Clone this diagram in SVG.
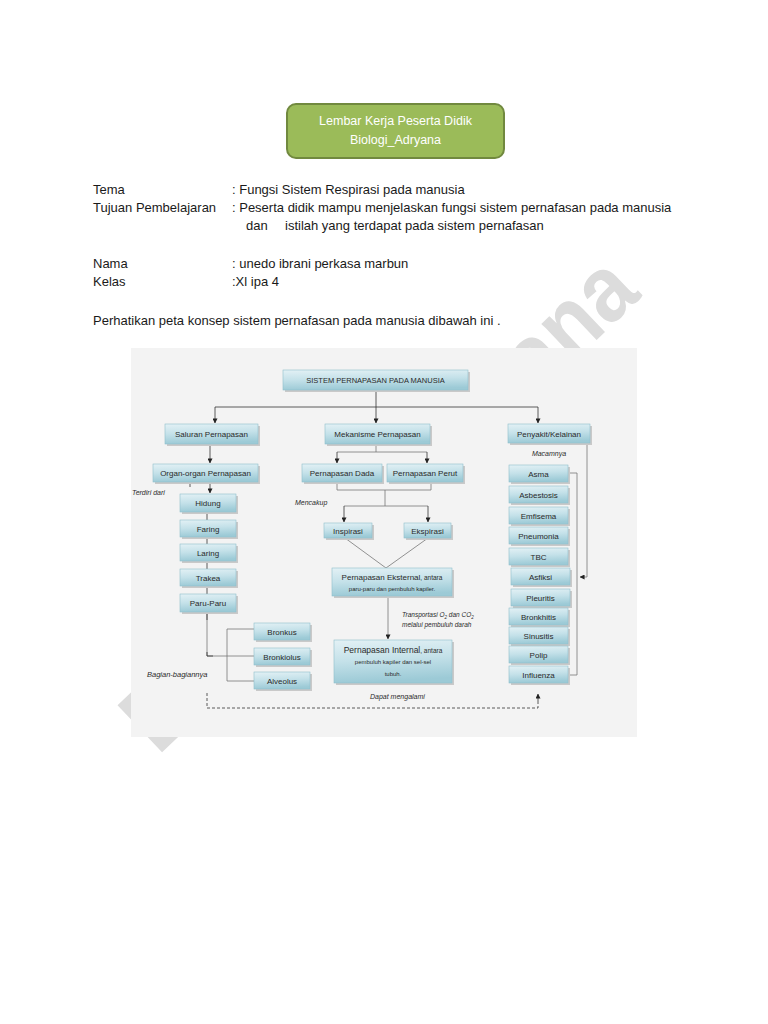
<svg xmlns="http://www.w3.org/2000/svg" width="768" height="1024" viewBox="0 0 768 1024">
<defs>
<linearGradient id="bx" x1="0" y1="0" x2="0.15" y2="1">
<stop offset="0" stop-color="#e3f1f5"/>
<stop offset="0.5" stop-color="#c4e1e9"/>
<stop offset="1" stop-color="#9ccad6"/>
</linearGradient>
<marker id="ah" viewBox="0 0 6 6" refX="5.5" refY="3" markerWidth="5" markerHeight="5" orient="auto" markerUnits="userSpaceOnUse">
<path d="M0,0 L6,3 L0,6 z" fill="#222"/>
</marker>
<style>
.doc{font-family:"Liberation Sans",Arial,sans-serif;font-size:13px;fill:#1a1a1a}
.hd{font-family:"Liberation Sans",Arial,sans-serif;font-size:12.5px;fill:#ffffff;text-anchor:middle}
.bx{fill:url(#bx);stroke:#8fbfcb;stroke-width:0.6}
.sh{fill:#c9c9c9}
.t{font-family:"Liberation Sans",Arial,sans-serif;font-size:8px;fill:#2a2a2a;text-anchor:middle}
.ts{font-family:"Liberation Sans",Arial,sans-serif;font-size:6px;fill:#2a2a2a;text-anchor:middle}
.it{font-family:"Liberation Sans",Arial,sans-serif;font-size:7px;font-style:italic;fill:#2a2a2a}
.ln{fill:none;stroke:#333;stroke-width:0.8}
.lg{fill:none;stroke:#777;stroke-width:0.8}
.ds{fill:none;stroke:#333;stroke-width:0.8;stroke-dasharray:3 2}
</style>
</defs>
<rect width="768" height="1024" fill="#ffffff"/>

<!-- watermark -->
<text transform="translate(158,756) rotate(-43.5)" x="0" y="0" font-family="Liberation Sans,Arial,sans-serif" font-weight="bold" font-size="94" fill="#dcdcdc" textLength="668" lengthAdjust="spacingAndGlyphs">Biologi_Adryana</text>

<!-- header -->
<g id="header">
<rect x="287" y="104" width="217" height="54" rx="9" fill="#9bbb59" stroke="#71893f" stroke-width="2"/>
<text class="hd" x="395.5" y="125">Lembar Kerja Peserta Didik</text>
<text class="hd" x="395.5" y="144">Biologi_Adryana</text>
</g>

<g id="info">
<text class="doc" x="93" y="194">Tema</text>
<text class="doc" x="232" y="194">: Fungsi Sistem Respirasi pada manusia</text>
<text class="doc" x="93" y="212">Tujuan Pembelajaran</text>
<text class="doc" x="232" y="212">: Peserta didik mampu menjelaskan fungsi sistem pernafasan pada manusia</text>
<text class="doc" x="246" y="230">dan</text>
<text class="doc" x="285" y="230">istilah yang terdapat pada sistem pernafasan</text>
<text class="doc" x="93" y="268">Nama</text>
<text class="doc" x="232" y="268">: unedo ibrani perkasa marbun</text>
<text class="doc" x="93" y="286">Kelas</text>
<text class="doc" x="232" y="286">:Xl ipa 4</text>
<text class="doc" x="93" y="325">Perhatikan peta konsep sistem pernafasan pada manusia dibawah ini .</text>
</g>

<!-- concept map panel -->
<rect x="131" y="348" width="506" height="389" fill="#f3f3f3"/>

<g id="connectors">
<path class="ln" d="M376,390 V407 M215,407 H538"/>
<path class="ln" d="M215,407 V423" marker-end="url(#ah)"/>
<path class="ln" d="M376,407 V423" marker-end="url(#ah)"/>
<path class="ln" d="M538,407 V423" marker-end="url(#ah)"/>
<path class="ln" d="M210,444 V463" marker-end="url(#ah)"/>
<path class="ln" d="M190,474 V487"/>
<path class="ln" d="M210,482 V493" marker-end="url(#ah)"/>
<path class="ln" d="M207,512 V520 M207,537 V544 M207,561 V569 M207,586 V594"/>
<path class="lg" d="M207,612 V656 H227 M227,629 V681 M227,629 H254 M227,656 H254 M227,681 H254"/>
<path class="ln" d="M207,612 V620 M207,652 V656 H213"/>
<path class="ds" d="M207,693 V708 H538 V700"/>
<path class="ln" d="M538,701 V694" marker-end="url(#ah)"/>
<path class="lg" d="M376,444 V452 M337,452 H427"/>
<path class="ln" d="M337,452 V463" marker-end="url(#ah)"/>
<path class="ln" d="M427,452 V463" marker-end="url(#ah)"/>
<path class="lg" d="M337,482 V490 H431 V482 M385,490 V506 M344,506 H428"/>
<path class="ln" d="M344,506 V522" marker-end="url(#ah)"/>
<path class="ln" d="M428,506 V522" marker-end="url(#ah)"/>
<path class="lg" d="M345,538 L386,568 L428,538"/>
<path class="lg" d="M388,597 V639" marker-end="url(#ah)"/>
<path class="lg" d="M568,473 H577 V675 H568"/>
<path class="lg" d="M587,443 V577 H580" marker-end="url(#ah)"/>
</g>

<g id="n-sistem"><rect class="sh" x="285" y="372" width="185" height="20"/><rect class="bx" x="283" y="370" width="185" height="20"/><text class="t" x="375.5" y="383" style="font-size:7.5px">SISTEM PERNAPASAN PADA MANUSIA</text></g>
<g id="n-saluran"><rect class="sh" x="167" y="426" width="93" height="20"/><rect class="bx" x="165" y="424" width="93" height="20"/><text class="t" x="211.5" y="437">Saluran Pernapasan</text></g>
<g id="n-mekanisme"><rect class="sh" x="327" y="426" width="105" height="20"/><rect class="bx" x="325" y="424" width="105" height="20"/><text class="t" x="377.5" y="437">Mekanisme Pernapasan</text></g>
<g id="n-penyakit"><rect class="sh" x="510" y="426" width="82" height="19"/><rect class="bx" x="508" y="424" width="82" height="19"/><text class="t" x="549" y="436.5">Penyakit/Kelainan</text></g>

<g id="n-organ"><rect class="sh" x="155" y="466" width="105" height="18"/><rect class="bx" x="153" y="464" width="105" height="18"/><text class="t" x="205.5" y="476">Organ-organ Pernapasan</text></g>
<g id="n-hidung"><rect class="sh" x="182" y="496" width="56" height="18"/><rect class="bx" x="180" y="494" width="56" height="18"/><text class="t" x="208" y="506">Hidung</text></g>
<g id="n-faring"><rect class="sh" x="182" y="522" width="56" height="17"/><rect class="bx" x="180" y="520" width="56" height="17"/><text class="t" x="208" y="531.5">Faring</text></g>
<g id="n-laring"><rect class="sh" x="182" y="546" width="56" height="17"/><rect class="bx" x="180" y="544" width="56" height="17"/><text class="t" x="208" y="555.5">Laring</text></g>
<g id="n-trakea"><rect class="sh" x="182" y="571" width="56" height="17"/><rect class="bx" x="180" y="569" width="56" height="17"/><text class="t" x="208" y="580.5">Trakea</text></g>
<g id="n-paru"><rect class="sh" x="182" y="596" width="56" height="18"/><rect class="bx" x="180" y="594" width="56" height="18"/><text class="t" x="208" y="606">Paru-Paru</text></g>
<g id="n-bronkus"><rect class="sh" x="256" y="625" width="56" height="17"/><rect class="bx" x="254" y="623" width="56" height="17"/><text class="t" x="282" y="634.5">Bronkus</text></g>
<g id="n-bronkiolus"><rect class="sh" x="256" y="650" width="56" height="17"/><rect class="bx" x="254" y="648" width="56" height="17"/><text class="t" x="282" y="659.5">Bronkiolus</text></g>
<g id="n-alveolus"><rect class="sh" x="256" y="674" width="56" height="17"/><rect class="bx" x="254" y="672" width="56" height="17"/><text class="t" x="282" y="683.5">Alveolus</text></g>

<g id="n-dada"><rect class="sh" x="304" y="466" width="80" height="18"/><rect class="bx" x="302" y="464" width="80" height="18"/><text class="t" x="342" y="476">Pernapasan Dada</text></g>
<g id="n-perut"><rect class="sh" x="389" y="466" width="76" height="18"/><rect class="bx" x="387" y="464" width="76" height="18"/><text class="t" x="425" y="476">Pernapasan Perut</text></g>
<g id="n-inspirasi"><rect class="sh" x="326" y="525" width="48" height="15"/><rect class="bx" x="324" y="523" width="48" height="15"/><text class="t" x="348" y="533.5">Inspirasi</text></g>
<g id="n-ekspirasi"><rect class="sh" x="406" y="525" width="47" height="15"/><rect class="bx" x="404" y="523" width="47" height="15"/><text class="t" x="427.5" y="533.5">Ekspirasi</text></g>
<g id="n-eksternal"><rect class="sh" x="334" y="570" width="120" height="28"/><rect class="bx" x="332" y="568" width="120" height="28"/><text class="t" x="392" y="580">Pernapasan Eksternal<tspan style="font-size:6.5px">, antara</tspan></text><text class="ts" x="392" y="591">paru-paru dan pembuluh kapiler.</text></g>
<g id="n-internal"><rect class="sh" x="336" y="642" width="118" height="43"/><rect class="bx" x="334" y="640" width="118" height="43"/><text class="t" x="393" y="653" style="font-size:8.5px">Pernapasan Internal<tspan style="font-size:6.5px">, antara</tspan></text><text class="ts" x="393" y="664">pembuluh kapiler dan sel-sel</text><text class="ts" x="393" y="676">tubuh.</text></g>

<g id="n-asma"><rect class="sh" x="511" y="467" width="59" height="17"/><rect class="bx" x="509" y="465" width="59" height="17"/><text class="t" x="538.5" y="476.5">Asma</text></g>
<g id="n-asbestosis"><rect class="sh" x="511" y="488" width="59" height="17"/><rect class="bx" x="509" y="486" width="59" height="17"/><text class="t" x="538.5" y="497.5">Asbestosis</text></g>
<g id="n-emfisema"><rect class="sh" x="511" y="509" width="59" height="17"/><rect class="bx" x="509" y="507" width="59" height="17"/><text class="t" x="538.5" y="518.5">Emfisema</text></g>
<g id="n-pneumonia"><rect class="sh" x="511" y="529" width="59" height="17"/><rect class="bx" x="509" y="527" width="59" height="17"/><text class="t" x="538.5" y="538.5">Pneumonia</text></g>
<g id="n-tbc"><rect class="sh" x="511" y="550" width="59" height="17"/><rect class="bx" x="509" y="548" width="59" height="17"/><text class="t" x="538.5" y="559.5">TBC</text></g>
<g id="n-asfiksi"><rect class="sh" x="513" y="570" width="59" height="17"/><rect class="bx" x="511" y="568" width="59" height="17"/><text class="t" x="540.5" y="579.5">Asfiksi</text></g>
<g id="n-pleuritis"><rect class="sh" x="513" y="591" width="59" height="17"/><rect class="bx" x="511" y="589" width="59" height="17"/><text class="t" x="540.5" y="600.5">Pleuritis</text></g>
<g id="n-bronkhitis"><rect class="sh" x="511" y="610" width="59" height="17"/><rect class="bx" x="509" y="608" width="59" height="17"/><text class="t" x="538.5" y="619.5">Bronkhitis</text></g>
<g id="n-sinusitis"><rect class="sh" x="511" y="629" width="59" height="17"/><rect class="bx" x="509" y="627" width="59" height="17"/><text class="t" x="538.5" y="638.5">Sinusitis</text></g>
<g id="n-polip"><rect class="sh" x="511" y="648" width="59" height="17"/><rect class="bx" x="509" y="646" width="59" height="17"/><text class="t" x="538.5" y="657.5">Polip</text></g>
<g id="n-influenza"><rect class="sh" x="511" y="668" width="59" height="17"/><rect class="bx" x="509" y="666" width="59" height="17"/><text class="t" x="538.5" y="677.5">Influenza</text></g>

<g id="labels">
<text class="it" x="132" y="495">Terdiri dari</text>
<text class="it" x="295" y="505">Mencakup</text>
<text class="it" x="549" y="456" text-anchor="middle">Macamnya</text>
<text class="it" x="147" y="677" style="font-size:7.5px">Bagian-bagiannya</text>
<text class="it" x="402" y="617" style="font-size:6.5px">Transportasi O<tspan dy="1.5" style="font-size:4.5px">2</tspan><tspan dy="-1.5"> dan CO</tspan><tspan dy="1.5" style="font-size:4.5px">2</tspan></text>
<text class="it" x="402" y="627" style="font-size:6.5px">melalui pembuluh darah</text>
<text class="it" x="370" y="699">Dapat mengalami</text>
</g>
</svg>
